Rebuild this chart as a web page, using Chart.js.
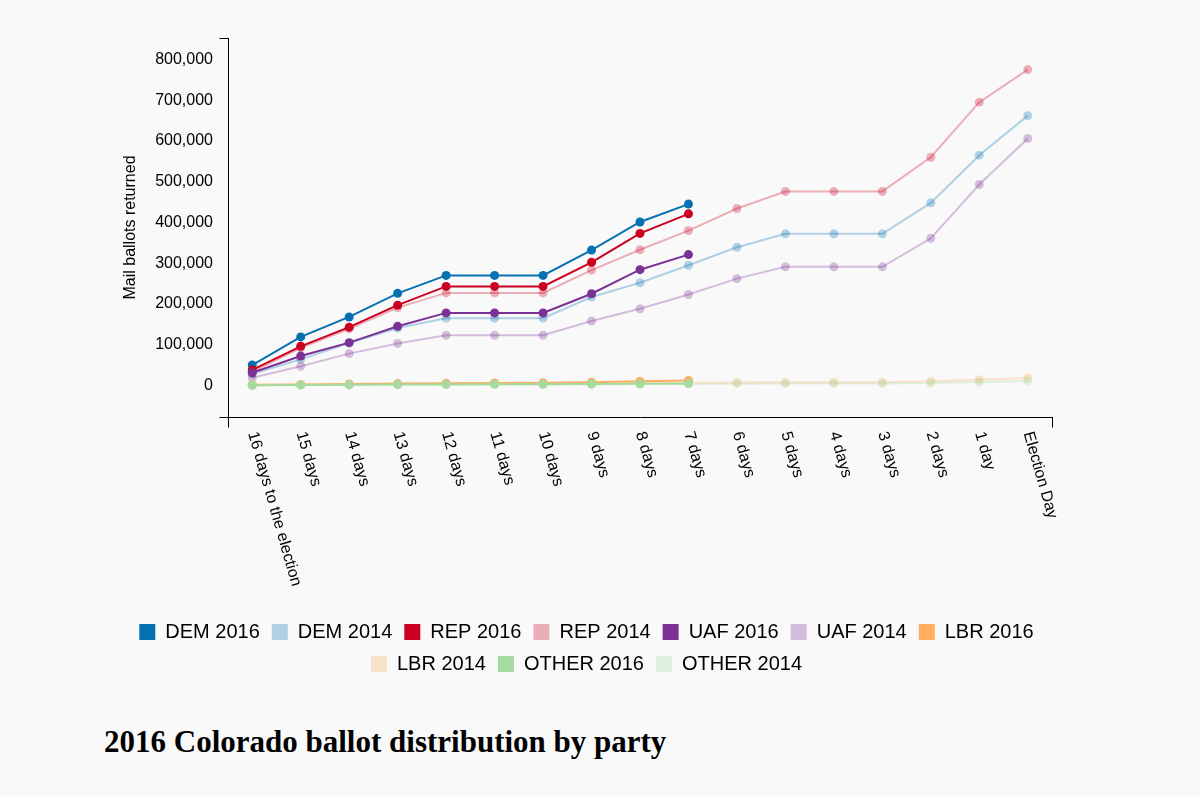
<!DOCTYPE html>
<html>
<head>
<meta charset="utf-8">
<title>2016 Colorado ballot distribution by party</title>
<script src="https://cdn.jsdelivr.net/npm/chart.js@4/dist/chart.umd.min.js"></script>
<style>
  body { margin: 0; background: #f9f9f9; }
  #wrap { position: relative; width: 1200px; height: 796px; }
  #ballots { position: absolute; left: 0; top: 0; }
  h2 {
    position: absolute; left: 104px; top: 726px; margin: 0;
    font: bold 31px/31px "Liberation Serif", "Times New Roman", serif;
    color: #000;
  }
</style>
</head>
<body>
<div id="wrap">
  <canvas id="ballots" width="1200" height="684"></canvas>
  <h2>2016 Colorado ballot distribution by party</h2>
</div>
<script>
const days = ['16 days to the election', '15 days', '14 days', '13 days', '12 days',
  '11 days', '10 days', '9 days', '8 days', '7 days', '6 days', '5 days', '4 days',
  '3 days', '2 days', '1 day', 'Election Day'];

const yTicks = [0, 100000, 200000, 300000, 400000, 500000, 600000, 700000, 800000];

// 2016 returns stop at 7 days out
const dem2016 = [50000, 119000, 168000, 226000, 270000, 270000, 270000, 332000, 401000, 445000];
const rep2016 = [38000, 96000, 143000, 197000, 243000, 243000, 243000, 302000, 373000, 421000];
const uaf2016 = [31000, 72000, 105000, 145000, 178000, 178000, 178000, 225000, 284000, 321000];
const lbr2016 = [1500, 2500, 3500, 4500, 5500, 6000, 6500, 8000, 10000, 12000];
const other2016 = [500, 1000, 1500, 2000, 2500, 2800, 3000, 3500, 4200, 5000];

const dem2014 = [28000, 64000, 104000, 141000, 165000, 165000, 165000, 217000, 252000, 295000,
  339000, 372000, 372000, 372000, 448000, 565000, 662000];
const rep2014 = [33000, 92000, 139000, 191000, 227000, 227000, 227000, 283000, 333000, 380000,
  434000, 476000, 476000, 476000, 560000, 695000, 775000];
const uaf2014 = [19000, 47000, 78000, 103000, 123000, 123000, 123000, 158000, 188000, 223000,
  262000, 291000, 291000, 291000, 361000, 493000, 606000];
const lbr2014 = [1000, 1800, 2500, 3200, 4000, 4200, 4500, 5000, 5800, 6500,
  7200, 7600, 7800, 8000, 10000, 14000, 18000];
const other2014 = [400, 800, 1200, 1600, 2000, 2200, 2400, 2800, 3200, 3600,
  4200, 4500, 4700, 4900, 6000, 8500, 11000];

const partyColors = {
  DEM: '#0571b0',
  REP: '#ca0020',
  UAF: '#7b3294',
  LBR: '#fdae61',
  OTHER: '#a6dba0'
};

const series = [
  { label: 'DEM 2016', data: dem2016, party: 'DEM', faded: false },
  { label: 'DEM 2014', data: dem2014, party: 'DEM', faded: true },
  { label: 'REP 2016', data: rep2016, party: 'REP', faded: false },
  { label: 'REP 2014', data: rep2014, party: 'REP', faded: true },
  { label: 'UAF 2016', data: uaf2016, party: 'UAF', faded: false },
  { label: 'UAF 2014', data: uaf2014, party: 'UAF', faded: true },
  { label: 'LBR 2016', data: lbr2016, party: 'LBR', faded: false },
  { label: 'LBR 2014', data: lbr2014, party: 'LBR', faded: true },
  { label: 'OTHER 2016', data: other2016, party: 'OTHER', faded: false },
  { label: 'OTHER 2014', data: other2014, party: 'OTHER', faded: true }
];

const rgba = (hex, a) => {
  const n = parseInt(hex.slice(1), 16);
  return `rgba(${n >> 16}, ${(n >> 8) & 255}, ${n & 255}, ${a})`;
};

// y domain padded 10% either side of the biggest value
const peak = Math.max(...series.flatMap(s => s.data));

// d3-like outer ticks at the axis ends, plus the slanted day labels
const axisExtras = {
  id: 'axisExtras',
  afterDraw(chart) {
    const { ctx, chartArea: a, scales: { x } } = chart;
    const ax = Math.round(a.left) + 0.5;
    const ay = Math.round(a.bottom) + 0.5;
    ctx.save();
    ctx.strokeStyle = '#000';
    ctx.lineWidth = 1;
    ctx.beginPath();
    ctx.moveTo(ax - 9, Math.round(a.top) + 0.5);
    ctx.lineTo(ax, Math.round(a.top) + 0.5);
    ctx.moveTo(ax - 9, ay);
    ctx.lineTo(ax, ay);
    ctx.moveTo(ax, ay);
    ctx.lineTo(ax, ay + 10);
    ctx.moveTo(Math.round(a.right) + 0.5, ay);
    ctx.lineTo(Math.round(a.right) + 0.5, ay + 10);
    ctx.stroke();

    ctx.fillStyle = '#000';
    ctx.font = '16px "Liberation Sans", Arial, sans-serif';
    ctx.textAlign = 'left';
    ctx.textBaseline = 'middle';
    days.forEach((d, i) => {
      ctx.save();
      ctx.translate(x.getPixelForValue(i), a.bottom + 15);
      ctx.rotate(74 * Math.PI / 180);
      ctx.fillText(d, 0, 0);
      ctx.restore();
    });
    ctx.restore();
  }
};

Chart.defaults.font.family = '"Liberation Sans", Arial, sans-serif';
Chart.defaults.color = '#000';

new Chart(document.getElementById('ballots'), {
  type: 'line',
  data: {
    labels: days,
    datasets: series.map((s, i) => {
      const c = rgba(partyColors[s.party], s.faded ? 0.3 : 1);
      return {
        label: s.label,
        data: s.data,
        borderColor: c,
        backgroundColor: c,
        pointBackgroundColor: c,
        borderWidth: 2,
        pointRadius: 4.5,
        pointHoverRadius: 4.5,
        pointBorderWidth: 0,
        order: -i
      };
    })
  },
  options: {
    responsive: false,
    animation: false,
    events: [],
    layout: { padding: { left: 121, right: 148, top: 38, bottom: 0 } },
    scales: {
      x: {
        type: 'category',
        offset: true,
        grid: { display: false, drawTicks: false },
        border: { color: '#000', width: 1 },
        ticks: { display: false },
        afterFit: s => { s.height = 193; }
      },
      y: {
        min: -0.1 * peak,
        max: 1.1 * peak,
        afterBuildTicks: s => { s.ticks = yTicks.map(v => ({ value: v })); },
        afterFit: s => { s.width = 107; },
        grid: { display: false, drawTicks: false },
        border: { color: '#000', width: 1 },
        ticks: {
          padding: 15,
          font: { size: 16 },
          callback: v => v.toLocaleString('en-US')
        },
        title: {
          display: true,
          text: 'Mail ballots returned',
          font: { size: 16 },
          padding: 0
        }
      }
    },
    plugins: {
      tooltip: { enabled: false },
      legend: {
        position: 'bottom',
        labels: {
          boxWidth: 16,
          boxHeight: 16,
          padding: 12,
          font: { size: 20 },
          generateLabels: chart => Chart.defaults.plugins.legend.labels.generateLabels(chart)
            .map(item => Object.assign(item, { lineWidth: 0 }))
            .sort((a, b) => a.datasetIndex - b.datasetIndex)
        }
      }
    }
  },
  plugins: [axisExtras]
});
</script>
</body>
</html>
